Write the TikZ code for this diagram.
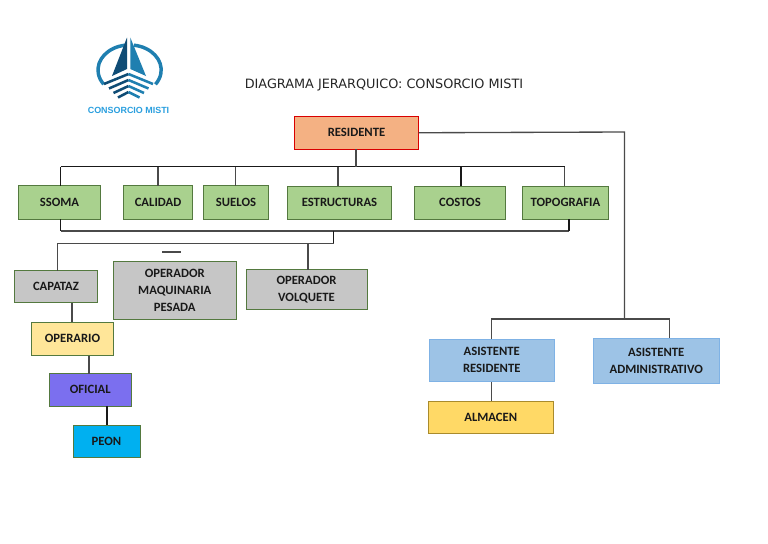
\documentclass[tikz,border=0pt]{standalone}
\usepackage{fontspec}
\setmainfont{Carlito}
\newfontfamily\titlefont{DejaVu Sans}
\newfontfamily\logofont{Liberation Sans}
\definecolor{gfill}{HTML}{A9D18E}
\definecolor{gline}{HTML}{54793F}
\definecolor{greyfill}{HTML}{C6C6C6}
\definecolor{orfill}{HTML}{F4B183}
\definecolor{yfill}{HTML}{FFE699}
\definecolor{pfill}{HTML}{7B6FEF}
\definecolor{cfill}{HTML}{00B0F0}
\definecolor{bfill}{HTML}{9DC3E6}
\definecolor{bline}{HTML}{7FB2E5}
\definecolor{afill}{HTML}{FFD966}
\definecolor{aline}{HTML}{A98B2C}
\definecolor{logod}{HTML}{0F4C75}
\definecolor{logom}{HTML}{1F7FB0}
\definecolor{logot}{HTML}{2A9FDF}
\definecolor{wire}{HTML}{4A4A4A}
\tikzset{
  x=0.75pt,y=-0.75pt,
  box/.style={draw=gline,line width=0.7pt,outer sep=0pt,inner sep=0pt,align=center,
    font=\fontsize{9.5}{12.9}\selectfont\bfseries,text=black!90},
  green box/.style={box,fill=gfill},
  grey box/.style={box,fill=greyfill},
  conn/.style={draw=wire,line width=1pt},
  connthick/.style={draw=black!90,line width=1.4pt},
  logoring/.style={logom,line width=2.6pt},
  stripel/.style={logod,line width=1.9pt},
  striper/.style={logom,line width=1.9pt},
}
% name, x1, y1, x2, y2, style, text
\newcommand{\bx}[7]{%
  \pgfmathsetmacro{\cxx}{(#2+#4)/2}\pgfmathsetmacro{\cyy}{(#3+#5)/2}%
  \pgfmathsetmacro{\www}{(#4-#2)*0.75}\pgfmathsetmacro{\hhh}{(#5-#3)*0.75}%
  \node[#6,minimum width=\www pt,minimum height=\hhh pt] (#1) at (\cxx,\cyy) {#7};}
\begin{document}
\begin{tikzpicture}
\useasboundingbox[fill=white] (0,0) rectangle (768,543);
% logo
\draw[logoring] (125.2,45.2) arc[start angle=-98,end angle=-215,x radius=31.6,y radius=25];
\draw[logoring] (134,45.2) arc[start angle=-82,end angle=35,x radius=31.6,y radius=25];
\fill[logod] (127,37.5) -- (112,76) -- (127,69) -- cycle;
\fill[logom] (130.3,37.5) -- (146,76) -- (130.3,69) -- cycle;
\draw[stripel] (104,84) -- (128.5,74);
\draw[striper] (153,84) -- (128.5,74);
\draw[stripel] (109,88.5) -- (128.5,80);
\draw[striper] (148.5,88.5) -- (128.5,80);
\draw[stripel] (113.5,93) -- (128.5,86);
\draw[striper] (144,93) -- (128.5,86);
\draw[stripel] (118,97.5) -- (128.5,92);
\draw[striper] (139.5,97.5) -- (128.5,92);
\node[font=\logofont\fontsize{6.7}{7}\selectfont\bfseries,text=logot,inner sep=0pt] (logotext) at (128.5,110) {CONSORCIO MISTI};
% title
\node[font=\titlefont\fontsize{9.62}{12}\selectfont,text=black!85,inner sep=0pt] (title) at (384,85) {DIAGRAMA JERARQUICO: CONSORCIO MISTI};
% boxes
\bx{res}{294.5}{116.5}{418.5}{149}{box,fill=orfill,draw=red!85!black}{RESIDENTE}
\bx{ssoma}{18.5}{185.5}{100.5}{219}{green box}{SSOMA}
\bx{cal}{123.5}{185.5}{192.5}{219}{green box}{CALIDAD}
\bx{sue}{203.5}{185.5}{268.5}{219}{green box}{SUELOS}
\bx{est}{287.5}{186}{391.5}{219}{green box}{ESTRUCTURAS}
\bx{cos}{414.5}{186}{505.5}{219}{green box}{COSTOS}
\bx{top}{522.5}{186}{608.5}{219}{green box}{TOPOGRAFIA}
\bx{cap}{14.5}{270.5}{97.5}{302.5}{grey box}{CAPATAZ}
\bx{maq}{113.5}{261.5}{236}{319}{grey box}{OPERADOR\\MAQUINARIA\\PESADA}
\bx{vol}{246}{269.5}{367}{309}{grey box}{OPERADOR\\VOLQUETE}
\bx{ope}{31.5}{322}{113.5}{355.5}{box,fill=yfill}{OPERARIO}
\bx{ofi}{49}{373.5}{131.5}{406}{box,fill=pfill}{OFICIAL}
\bx{peo}{73}{425}{140}{457.5}{box,fill=cfill}{PEON}
\bx{ares}{429}{339}{554.5}{381.5}{box,fill=bfill,draw=bline}{ASISTENTE\\RESIDENTE}
\bx{aadm}{593.5}{338}{719}{383.5}{box,fill=bfill,draw=bline}{ASISTENTE\\ADMINISTRATIVO}
\bx{alm}{428}{401}{553.5}{433}{box,fill=afill,draw=aline}{ALMACEN}
% junctions
\coordinate (bt) at (355.7,166.5);
\coordinate (btl) at (60.5,166.5);
\coordinate (btr) at (564.5,166.5);
\coordinate (jcal) at (158,166.5);
\coordinate (jsue) at (235.5,166.5);
\coordinate (jest) at (338,166.5);
\coordinate (jcos) at (461,166.5);
\coordinate (bl) at (60.5,231);
\coordinate (br) at (569,231);
\coordinate (jm) at (333.5,231);
\coordinate (jm2) at (333.5,243.5);
\coordinate (jcap) at (57.5,243.5);
\coordinate (jvol) at (308,243.5);
\coordinate (dashl) at (162,252);
\coordinate (dashr) at (181,252);
\coordinate (rr) at (624.5,132);
\coordinate (rb) at (624.5,319);
\coordinate (bal) at (491.5,319);
\coordinate (bar) at (669.5,319);
\coordinate (xa) at (72,300);
\coordinate (xb) at (89,300);
\coordinate (xc) at (107,300);
% connectors
\draw[connthick] (btl) -- (btr);
\draw[conn,line width=1.2pt] (res.south -| bt) -- (bt);
\draw[connthick] (ssoma.north -| btl) -- (btl);
\draw[conn] (cal.north -| jcal) -- (jcal);
\draw[conn] (sue.north -| jsue) -- (jsue);
\draw[conn] (est.north -| jest) -- (jest);
\draw[connthick] (cos.north -| jcos) -- (jcos);
\draw[conn] (top.north -| btr) -- (btr);
\draw[conn] (bl) -- (br);
\draw[connthick] (ssoma.south -| bl) -- (bl);
\draw[connthick] (top.south -| br) -- (br);
\draw[connthick] (jm) -- (jm2);
\draw[conn] (jm2) -- (jcap) -- (cap.north -| jcap);
\draw[conn] (jvol) -- (vol.north -| jvol);
\draw[conn] (dashl) -- (dashr);
\draw[conn] (res.east) -- (rr) -- (rb);
\draw[conn] (bal |- ares.north) -- (bal) -- (bar) -- (bar |- aadm.north);
\draw[conn] (alm.north -| bal) -- (ares.south -| bal);
\draw[conn] (cap.south -| xa) -- (ope.north -| xa);
\draw[conn,line width=1.3pt] (ope.south -| xb) -- (ofi.north -| xb);
\draw[connthick] (ofi.south -| xc) -- (peo.north -| xc);
\end{tikzpicture}
\end{document}
